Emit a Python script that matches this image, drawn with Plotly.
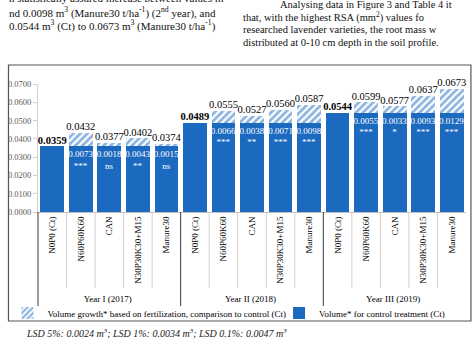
import plotly.graph_objects as go

# ---- data -------------------------------------------------------------
years = ["Year I (2017)", "Year II (2018)", "Year III (2019)"]
treatments = ["N0P0 (Ct)", "N60P60K60", "CAN", "N30P30K30+M15", "Manure30"]
control_volume = [0.0359, 0.0489, 0.0544]          # m3, control treatment (Ct)
growth = [                                          # m3, increase vs. control
    [0.0, 0.0073, 0.0018, 0.0043, 0.0015],
    [0.0, 0.0066, 0.0038, 0.0071, 0.0098],
    [0.0, 0.0055, 0.0033, 0.0093, 0.0129],
]
significance = [
    ["", "***", "ns", "**", "ns"],
    ["", "***", "**", "***", "***"],
    ["", "***", "*", "***", "***"],
]
y_ticks = [0.0, 0.01, 0.02, 0.03, 0.04, 0.05, 0.06, 0.07]

# ---- derived series ---------------------------------------------------
x_year, x_treat, base, grow, total, top_txt, inner_txt = [], [], [], [], [], [], []
for yi, yr in enumerate(years):
    for ti, tr in enumerate(treatments):
        b = control_volume[yi]
        g = growth[yi][ti]
        x_year.append(yr)
        x_treat.append(tr)
        base.append(b)
        grow.append(g)
        total.append(b + g)
        if ti == 0:
            top_txt.append(f"<b>{b:.4f}</b>")
            inner_txt.append("")
        else:
            top_txt.append(f"{b + g:.4f}")
            inner_txt.append(f"{g:.4f}<br>{significance[yi][ti]}")

BLUE = "#1b6ac0"
SERIF = "Liberation Serif"

W, H = 474, 342
ML, MR, MT, MB = 31, 8, 84, 130
PW, PH = W - ML - MR, H - MT - MB


def px(xp):
    return (xp - ML) / PW


def py(yp):
    return (H - MB - yp) / PH


fig = go.Figure()
# control volume, with growth value + significance written at its top
fig.add_trace(go.Bar(
    x=[x_year, x_treat], y=base, name="Volume* for control treatment (Ct)",
    marker=dict(color=BLUE, line=dict(width=0)), legend="legend2",
    text=inner_txt, textposition="inside", insidetextanchor="end", textangle=0,
    insidetextfont=dict(size=9, color="white", family=SERIF), hoverinfo="skip",
))
fig.add_trace(go.Bar(
    x=[x_year, x_treat], y=grow,
    name="Volume growth* based on fertilization, comparison to control (Ct)",
    marker=dict(color="white", line=dict(width=0),
                pattern=dict(shape="/", fgcolor=BLUE, bgcolor="white",
                             size=5, solidity=0.55)),
    legend="legend",
))
# value labels above each bar
fig.add_trace(go.Scatter(
    x=[x_year, x_treat], y=total, mode="text", text=top_txt,
    textposition="top center", textfont=dict(size=10.5, color="black", family=SERIF),
    showlegend=False, cliponaxis=False, hoverinfo="skip",
))

shapes = []
# separators under the category axis
for k in range(0, 15):
    major = k % 5 == 0
    shapes.append(dict(type="line", xref="paper", yref="paper",
                       x0=k / 15, x1=k / 15, y0=0, y1=py(306 if major else 288),
                       line=dict(color="#3a3a3a" if major else "#cfcfcf", width=1)))
# frame around the figure block
shapes.append(dict(type="rect", xref="paper", yref="paper",
                   x0=px(1), x1=px(471), y0=py(65), y1=py(321),
                   line=dict(color="#555555", width=1.2)))

left = dict(family=SERIF, size=11, color="#111111")
right = dict(family=SERIF, size=10.5, color="#111111")
annotations = [
    dict(text="n statistically assured increase between values in", x=px(0), y=py(-2), font=left),
    dict(text="nd 0.0098 m<sup>3</sup> (Manure30 t/ha<sup>-1</sup>) (2<sup>nd</sup> year), and",
         x=px(0), y=py(12), font=left),
    dict(text="0.0544 m<sup>3</sup> (Ct) to 0.0673 m<sup>3</sup> (Manure30 t/ha<sup>-1</sup>)",
         x=px(0), y=py(25), font=left),
    dict(text="Analysing data in Figure 3 and Table 4 it", x=px(275), y=py(4), font=right),
    dict(text="that, with the highest RSA (mm<sup>2</sup>) values fo", x=px(237), y=py(17),
         font=right),
    dict(text="researched lavender varieties, the root mass w", x=px(237), y=py(29), font=right),
    dict(text="distributed at 0-10 cm depth in the soil profile.", x=px(237), y=py(42),
         font=right),
]
for a in annotations:
    a.update(xref="paper", yref="paper", xanchor="left", yanchor="middle", showarrow=False)
annotations.append(dict(
    text="<i>LSD 5%: 0.0024 m<sup>3</sup>; LSD 1%: 0.0034 m<sup>3</sup>; "
         "LSD 0.1%: 0.0047 m<sup>3</sup></i>",
    xref="paper", yref="paper", x=px(17), y=py(333), xanchor="left",
    yanchor="middle", showarrow=False, font=dict(family=SERIF, size=10, color="#222222")))

legend_font = dict(size=9, family=SERIF, color="black")
fig.update_layout(
    width=W, height=H, margin=dict(l=ML, r=MR, t=MT, b=MB, pad=0),
    barmode="stack", bargap=0.17,
    uniformtext=dict(minsize=9, mode="show"),
    plot_bgcolor="white", paper_bgcolor="white",
    font=dict(family=SERIF, color="black"),
    shapes=shapes, annotations=annotations,
    legend=dict(orientation="h", x=px(0), xanchor="left", y=py(313), yanchor="middle",
                font=legend_font, itemwidth=30, bgcolor="rgba(0,0,0,0)"),
    legend2=dict(orientation="h", x=px(276), xanchor="left", y=py(313), yanchor="middle",
                 font=legend_font, itemwidth=30, bgcolor="rgba(0,0,0,0)"),
    xaxis=dict(type="multicategory", tickangle=-90, tickfont=dict(size=9, family=SERIF),
               showdividers=False, showline=True, linecolor="#bfbfbf", ticks="",
               range=[-0.5, 14.5]),
    yaxis=dict(range=[0, 0.07], tickvals=y_ticks, tickformat=".4f",
               tickfont=dict(size=8.5, family=SERIF, color="#595959"),
               showline=True, linecolor="#d0d0d0", ticks="outside", ticklen=4,
               tickcolor="#d0d0d0", showgrid=False, zeroline=False),
)

fig.write_html("out.html")
